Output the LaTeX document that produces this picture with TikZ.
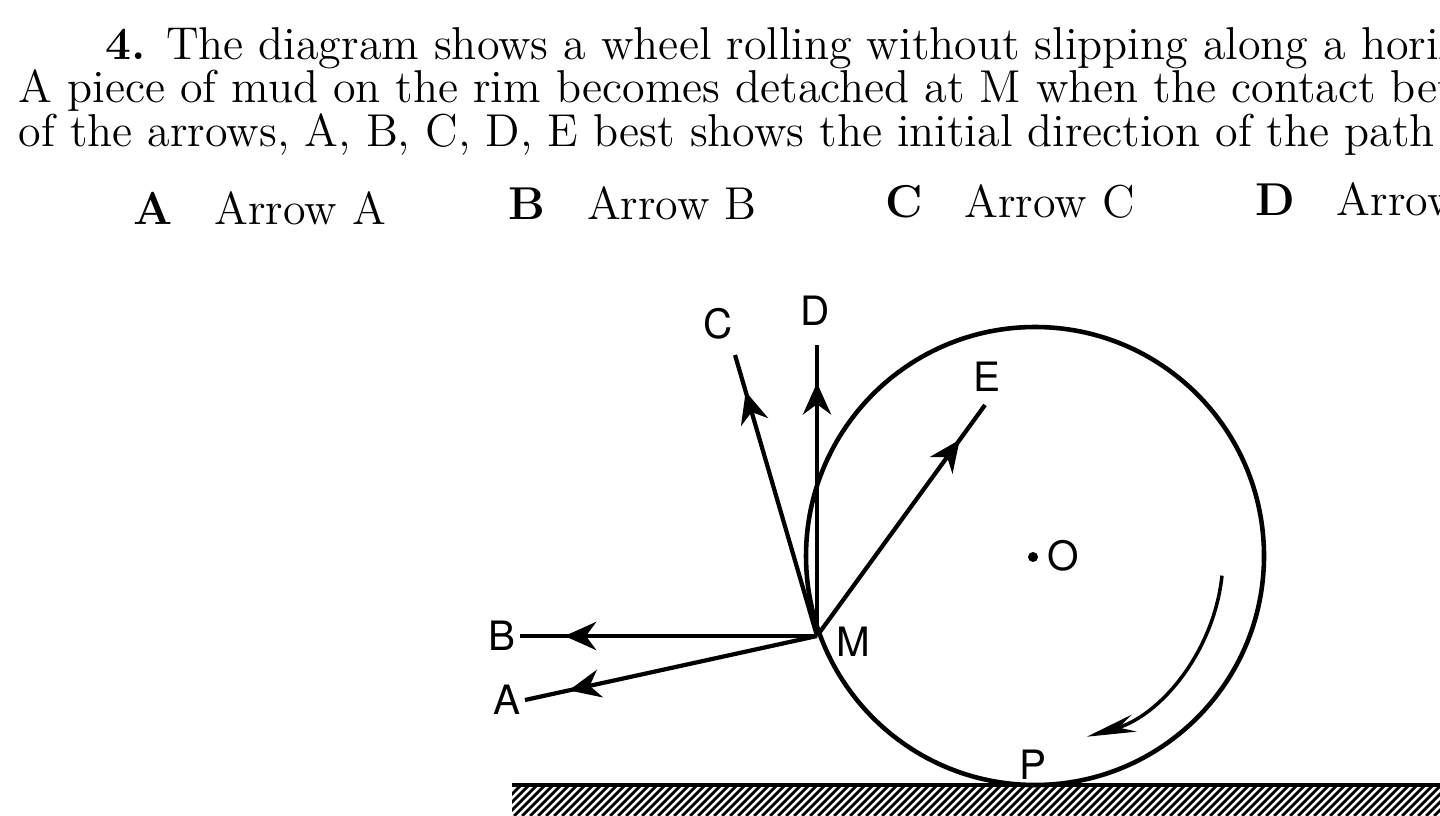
\documentclass[tikz,border=0pt]{standalone}
\usepackage{fontspec}
\newfontfamily\lab{TeX Gyre Heros}
\usetikzlibrary{arrows.meta,decorations.markings}
\begin{document}
\begin{tikzpicture}[x=0.01cm,y=-0.01cm,
  txt/.style={anchor=base west,inner sep=0,font=\fontsize{13.1}{16}\selectfont},
  lbl/.style={font=\lab\fontsize{11.5}{13}\selectfont,inner sep=1pt},
  ray/.style={line width=1.2pt,postaction={decorate},decoration={markings,mark=at position #1 with {\arrow{Stealth[length=9pt,width=8pt]}}}}]
\useasboundingbox (0,0) rectangle (1440,816);
\begin{scope}
\clip (0,0) rectangle (1440,816);
\node[txt] (t1) at (105,60) {\textbf{4.} The diagram shows a wheel rolling without slipping along a horizontal surface.};
\node[txt] (t2) at (18,103) {A piece of mud on the rim becomes detached at M when the contact between the wheel};
\node[txt] (t3) at (18,147) {of the arrows, A, B, C, D, E best shows the initial direction of the path followed};
\node[txt] (o1) at (133,225) {\textbf{A}\hspace{0.9em}Arrow A};
\node[txt] (o2) at (508,220) {\textbf{B}\hspace{0.9em}Arrow B};
\node[txt] (o3) at (885,218) {\textbf{C}\hspace{0.9em}Arrow C};
\node[txt] (o4) at (1255,216) {\textbf{D}\hspace{0.9em}Arrow D};
% ground
\draw[line width=1.2pt] (512,785) -- (1440,785);
\begin{scope}
\clip (512,787) rectangle (1440,816);
\foreach \x in {490,498,...,1470} \draw[line width=0.8pt] (\x,816) -- (\x+30,786);
\end{scope}
\end{scope}
% wheel
\coordinate (O) at (1035,556);
\draw[line width=1.3pt] (O) circle [radius=229];
\fill (1033,557) circle [radius=5];
\node[lbl,anchor=west] (Ol) at (1043,556) {O};
\coordinate (M) at (817,636);
\node[lbl,anchor=west] (Ml) at (832,642) {M};
\node[lbl] (Pl) at (1033,765) {P};
\coordinate (Ae) at (525,700);
\coordinate (Be) at (520,636);
\coordinate (Ce) at (735,355);
\coordinate (De) at (817,345);
\coordinate (Ee) at (985,405);
\node[lbl,anchor=east] (Al) at (Ae) {A};
\node[lbl,anchor=east] (Bl) at (Be) {B};
\node[lbl,anchor=south] (Cl) at (718,343) {C};
\node[lbl,anchor=south] (Dl) at (815,330) {D};
\node[lbl,anchor=south] (El) at (987,396) {E};
\draw[ray=0.85] (M) -- (Ae);
\draw[ray=0.85] (M) -- (Be);
\draw[ray=0.87] (M) -- (Ce);
\draw[ray=0.87] (M) -- (De);
\draw[ray=0.85] (M) -- (Ee);
% rotation arrow
\draw[line width=1pt,-{Stealth[length=14pt,width=5pt]}] ([shift={(6:188)}]O) arc[start angle=6,end angle=74,radius=188];
\end{tikzpicture}
\end{document}
